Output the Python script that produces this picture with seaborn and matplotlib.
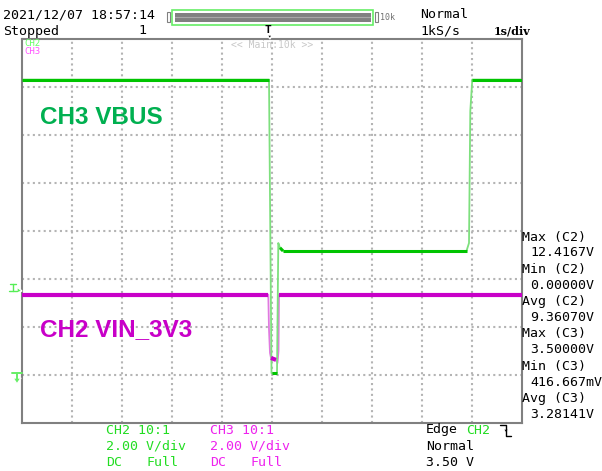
"""
Scope capture: CH3 VBUS dropout and CH2 VIN_3V3 droop
Redrawn from an oscilloscope screenshot (1 s/div, 2 V/div both channels).
"""

import numpy as np
import seaborn as sns
import matplotlib.pyplot as plt
from matplotlib.patches import Rectangle, Polygon
from matplotlib.lines import Line2D
from matplotlib.transforms import Affine2D

# -----------------
# Trace data (time in s, voltage in V)
# -----------------
t_vbus = [-5.0, -0.06, -0.01, 0.10, 0.126, 0.16, 0.22, 3.89, 3.94, 3.966, 4.006, 5.0]
v_vbus = [12.31, 12.31, 0.08, 0.08, 5.5, 5.3, 5.17, 5.17, 5.5, 11.0, 12.31, 12.31]

t_vin = [-5.0, -0.074, -0.06, -0.04, -0.02, 0.08, 0.11, 0.13, 0.14, 5.0]
v_vin = [3.35, 3.35, 1.9, 0.92, 0.71, 0.63, 0.5, 1.0, 3.35, 3.35]

# screen text
header_left = ["2021/12/07 18:57:14", "Stopped"]
header_right = ["Normal", "1kS/s"]
meas_labels = ["Max (C2)", "Min (C2)", "Avg (C2)", "Max (C3)", "Min (C3)", "Avg (C3)"]
meas_values = ["12.4167V", "0.00000V", "9.36070V", "3.50000V", "416.667mV", "3.28141V"]
ch2_info = ["CH2 10:1", "2.00 V/div", "DC"]
ch3_info = ["CH3 10:1", "2.00 V/div", "DC"]
trig_info = ["Edge", "Normal", "3.50 V"]

# scope settings
SEC_DIV = 1.0
VOLT_DIV = 2.0
GND_DIV = 1  # ground marker one division above the bottom

# -----------------
# Style
# -----------------
sns.set_style("white")
plt.rcParams["font.family"] = ["DejaVu Sans Mono", "DejaVu Sans"]

GREEN = "#00c400"
GREEN_LT = "#7ee07e"
GREEN_TXT = "#22dd22"
MAG = "#c800c8"
MAG_LT = "#e07ae0"
MAG_TXT = "#ee22ee"
FRAME = "#808080"
GRID = "#b4b4b4"

W, H = 602, 471
fig = plt.figure(figsize=(W / 100, H / 100), dpi=100)
fig.patch.set_facecolor("white")
# pixel coordinates, origin top-left
PX = Affine2D().scale(1 / W, -1 / H).translate(0, 1) + fig.transFigure

ax = fig.add_axes([22 / W, 48 / H, 500 / W, 384 / H])
ax.set_xlim(-5 * SEC_DIV, 5 * SEC_DIV)
ax.set_ylim(-GND_DIV * VOLT_DIV, (8 - GND_DIV) * VOLT_DIV)
ax.set_xticks([])
ax.set_yticks([])
for s in ax.spines.values():
    s.set_color(FRAME)
    s.set_linewidth(1.5)

# dotted graticule
for k in range(1, 10):
    ax.axvline(-5 * SEC_DIV + k * SEC_DIV, color=GRID, lw=1.5, ls=(0, (1, 1.6)), zorder=0)
for k in range(1, 8):
    ax.axhline(-GND_DIV * VOLT_DIV + k * VOLT_DIV, color=GRID, lw=1.5, ls=(0, (1, 1.6)), zorder=0)


def draw_trace(t, v, c_thin, c_thick, lw_thick):
    sns.lineplot(x=t, y=v, ax=ax, color=c_thin, lw=1.3, estimator=None, sort=False, zorder=2)
    t = np.asarray(t)
    v = np.asarray(v)
    for i in range(len(t) - 1):
        if abs(v[i + 1] - v[i]) < 0.5 and (t[i + 1] - t[i]) > 0.05:
            ax.plot(t[i:i + 2], v[i:i + 2], color=c_thick, lw=lw_thick,
                    solid_capstyle="butt", zorder=3)


draw_trace(t_vin, v_vin, MAG_LT, MAG, 3.0)
draw_trace(t_vbus, v_vbus, GREEN_LT, GREEN, 2.2)

# trace labels
ax.text(0.036, 0.778, "CH3 VBUS", transform=ax.transAxes, color="#00b050",
        fontsize=17.5, fontweight="bold", family="Liberation Sans", va="baseline")
ax.text(0.036, 0.227, "CH2 VIN_3V3", transform=ax.transAxes, color=MAG,
        fontsize=17.5, fontweight="bold", family="Liberation Sans", va="baseline")


def txt(x, y, s, color="black", size=9.5, **kw):
    fig.text(x, y, s, transform=PX, color=color, fontsize=size, va="center", **kw)


# header
txt(3, 15, header_left[0])
txt(3, 31, header_left[1])
txt(138, 31, "1")
txt(420, 15, header_right[0])
txt(420, 31, header_right[1])
txt(494, 31, "1s/div", size=8, family="DejaVu Serif", fontweight="bold")

# memory bar
fig.add_artist(Rectangle((172, 9.5), 201, 15, transform=PX, fill=False, ec="#66ee66", lw=1.2))
fig.add_artist(Rectangle((174.5, 12.5), 196, 9, transform=PX, fc="#808080", ec="none"))
fig.add_artist(Line2D([175, 370], [16.8, 16.8], transform=PX, color="#a8a8a8", lw=0.8))
fig.add_artist(Rectangle((167, 12), 3, 10, transform=PX, fill=False, ec="#808080", lw=0.8))
fig.add_artist(Rectangle((375, 12), 3, 10, transform=PX, fill=False, ec="#808080", lw=0.8))
txt(380, 17, "10k", color="#707070", size=6)
txt(268, 30, "T", size=8, ha="center", fontweight="bold")
fig.add_artist(Polygon([[267, 35], [272, 35], [270, 39]], closed=True, transform=PX, fc="black"))

# inside-frame labels
txt(24, 44, "CH2", color="#66ff66", size=6.5)
txt(24, 52, "CH3", color="#ff55ff", size=6.5)
txt(272, 45, "<< Main:10k >>", color="#c8c8c8", size=7, ha="center")

# left markers: trigger level and ground
fig.add_artist(Line2D([10, 16], [284, 284], transform=PX, color="#55ee55", lw=1))
fig.add_artist(Line2D([13, 13], [284, 291], transform=PX, color="#55ee55", lw=1))
fig.add_artist(Line2D([9, 17], [291, 291], transform=PX, color="#55ee55", lw=1))
fig.add_artist(Polygon([[17, 287], [22, 291], [17, 293]], closed=True, transform=PX, fc="#55ee55"))
fig.add_artist(Line2D([12, 22], [373, 373], transform=PX, color="#66ee66", lw=1.4))
fig.add_artist(Line2D([17, 17], [373, 379], transform=PX, color="#66ee66", lw=1.4))
fig.add_artist(Polygon([[13, 378], [21, 378], [17, 384]], closed=True, transform=PX, fc="#66ee66"))

# measurement panel
for i, (lab, val) in enumerate(zip(meas_labels, meas_values)):
    txt(522, 237 + 32.3 * i, lab)
    txt(530, 253 + 32.3 * i, val)

# channel settings at the bottom
ROW0, ROWSTEP = 430, 16
for i, s in enumerate(ch2_info):
    txt(106, ROW0 + ROWSTEP * i, s, color=GREEN_TXT)
txt(146, ROW0 + 2 * ROWSTEP, "Full", color=GREEN_TXT)
for i, s in enumerate(ch3_info):
    txt(210, ROW0 + ROWSTEP * i, s, color=MAG_TXT)
txt(250, ROW0 + 2 * ROWSTEP, "Full", color=MAG_TXT)

for i, s in enumerate(trig_info):
    txt(426, ROW0 + ROWSTEP * i, s)
txt(466, ROW0, "CH2", color=GREEN_TXT)
# edge symbol
fig.add_artist(Line2D([500, 506, 506, 511], [425, 425, 436, 436], transform=PX, color="black", lw=1))
fig.add_artist(Polygon([[503, 429], [509, 429], [506, 433]], closed=True, transform=PX, fc="black"))

fig.savefig("out.png", dpi=100, facecolor="white")
plt.close(fig)
